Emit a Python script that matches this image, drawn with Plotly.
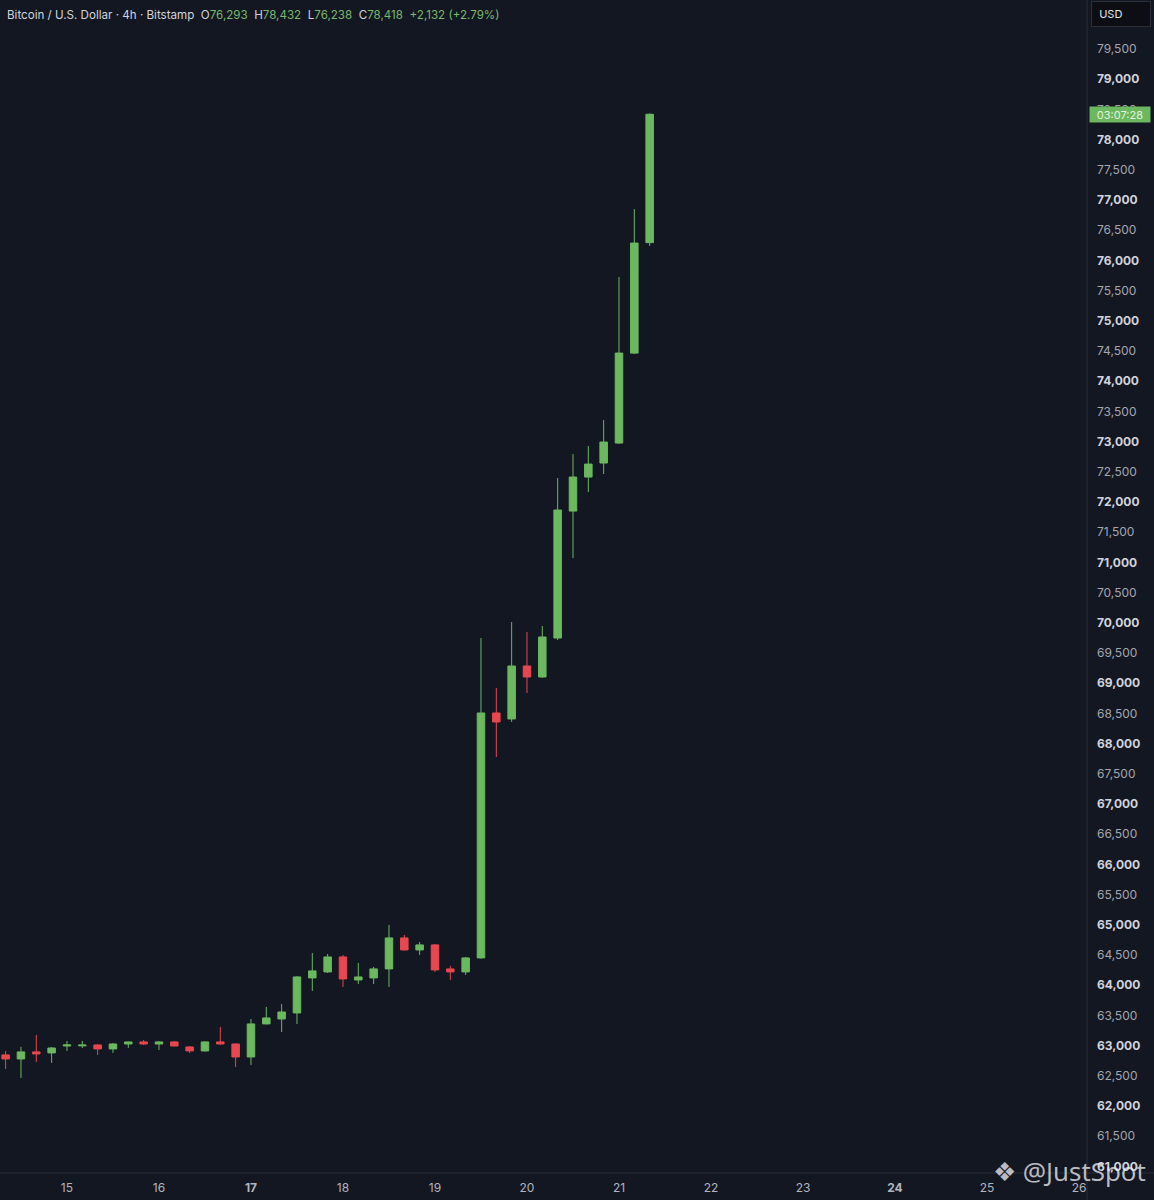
import pandas as pd
import plotly.graph_objects as go

# 4h candles (first candle opens on the 14th, 08:00)
times = pd.date_range("2025-03-14 08:00", periods=43, freq="4h")
opens = [62845, 62778, 62895, 62878, 62993, 62995, 63010, 62944, 63026, 63060,
         63026, 63060, 62977, 62911, 63060, 63026, 62811, 63358, 63440, 63540,
         64120, 64219, 64467, 64086, 64120, 64269, 64782, 64583, 64666, 64269,
         64219, 64451, 68506, 68407, 69284, 69102, 69747, 71849, 72412, 72644,
         72975, 74464, 76293]
highs = [62911, 62977, 63176, 62977, 63076, 63076, 63020, 63043, 63065, 63093,
         63076, 63076, 62990, 63070, 63308, 63035, 63440, 63639, 63689, 64150,
         64533, 64517, 64500, 64367, 64302, 64997, 64831, 64715, 64680, 64319,
         64467, 69747, 68920, 70012, 69847, 69946, 72396, 72793, 72925, 73356,
         75723, 76848, 78432]
lows = [62613, 62464, 62728, 62712, 62911, 62960, 62845, 62878, 62960, 63010,
        62927, 62985, 62878, 62900, 63010, 62646, 62679, 63350, 63225, 63358,
        63904, 64202, 63970, 64020, 64020, 63970, 64570, 64500, 64219, 64086,
        64169, 64440, 67777, 68357, 68837, 69086, 69714, 71071, 72164, 72462,
        72960, 74450, 76238]
closes = [62778, 62895, 62861, 62960, 63010, 63008, 62944, 63026, 63060, 63026,
          63060, 62993, 62911, 63060, 63026, 62811, 63358, 63457, 63556, 64136,
          64236, 64467, 64103, 64136, 64269, 64782, 64583, 64666, 64252, 64219,
          64451, 68506, 68357, 69284, 69102, 69764, 71866, 72412, 72627, 72992,
          74465, 76286, 78418]

day_ticks = pd.date_range("2025-03-15", "2025-03-26", freq="D")
day_labels = ["15", "16", "<b>17</b>", "18", "19", "20", "21", "22", "23", "<b>24</b>", "25", "26"]
price_ticks = list(range(61000, 80000, 500))
countdown = "03:07:28"

GREEN = "#6bb85f"
RED = "#e8474f"
BG = "#131722"

def price_label(v):
    s = f"{v:,}"
    if v % 1000 == 0:
        return f"<b><span style='color:#d1d4dc'>{s}</span></b>"
    return f"<span style='color:#a3a6af'>{s}</span>"

fig = go.Figure(go.Candlestick(
    x=times, open=opens, high=highs, low=lows, close=closes,
    increasing=dict(line=dict(color=GREEN, width=1), fillcolor=GREEN),
    decreasing=dict(line=dict(color=RED, width=1), fillcolor=RED),
    whiskerwidth=0,
))

chg = closes[-1] - closes[-2]
pct = chg / closes[-2] * 100
g = "<span style='color:#79b86d'>"
header = (f"Bitcoin / U.S. Dollar · 4h · Bitstamp  O{g}{opens[-1]:,}</span>  "
          f"H{g}{highs[-1]:,}</span>  L{g}{lows[-1]:,}</span>  C{g}{closes[-1]:,}</span>  "
          f"{g}+{chg:,} (+{pct:.2f}%)</span>")

fig.update_layout(
    width=1154, height=1200,
    margin=dict(l=0, r=67, t=0, b=27),
    paper_bgcolor=BG, plot_bgcolor=BG,
    showlegend=False,
    font=dict(family="Inter, Roboto, sans-serif", color="#d1d4dc"),
    xaxis=dict(
        rangeslider=dict(visible=False),
        range=["2025-03-14 06:32", "2025-03-26 02:05"],
        tickvals=day_ticks, ticktext=day_labels,
        showgrid=False, zeroline=False, showline=False,
        tickfont=dict(size=12, color="#b2b5be"),
        ticklabelstandoff=6,
    ),
    yaxis=dict(
        side="right", range=[60890, 80310],
        tickvals=price_ticks, ticktext=[price_label(v) for v in price_ticks],
        showgrid=False, zeroline=False, showline=False,
        tickfont=dict(size=12),
        ticklabelstandoff=9,
    ),
    shapes=[
        dict(type="line", xref="paper", yref="paper", x0=0, x1=1.07, y0=0, y1=0,
             line=dict(color="#2a2e39", width=1)),
        dict(type="line", xref="paper", yref="paper", x0=1, x1=1, y0=-0.03, y1=1,
             line=dict(color="#2a2e39", width=1)),
    ],
    annotations=[
        dict(text=header, xref="paper", yref="paper", x=0, y=1, xshift=5, yshift=-6,
             xanchor="left", yanchor="top", showarrow=False,
             font=dict(size=11.6, color="#d1d4dc")),
        dict(text="  USD", xref="paper", yref="paper", x=1, y=1, xshift=4, yshift=-1,
             xanchor="left", yanchor="top", showarrow=False, align="left",
             width=56, height=22, bgcolor="#0c0e14", bordercolor="#2a2e39",
             borderwidth=1, font=dict(size=11, color="#e0e3eb")),
        dict(text=countdown, xref="paper", yref="y", x=1, y=closes[-1], xshift=2,
             xanchor="left", yanchor="middle", showarrow=False,
             width=58, height=13, bgcolor=GREEN, font=dict(size=11, color="#e3f3df")),
        dict(text="❖ @JustSpot", xref="paper", yref="paper", x=1.056, y=0, yshift=2,
             xanchor="right", yanchor="middle", showarrow=False,
             font=dict(size=26, color="rgba(235,235,240,0.8)", family="Open Sans")),
    ],
)

fig.write_html("out.html", config={"displayModeBar": False},
               post_script="document.body.style.margin='0';")
